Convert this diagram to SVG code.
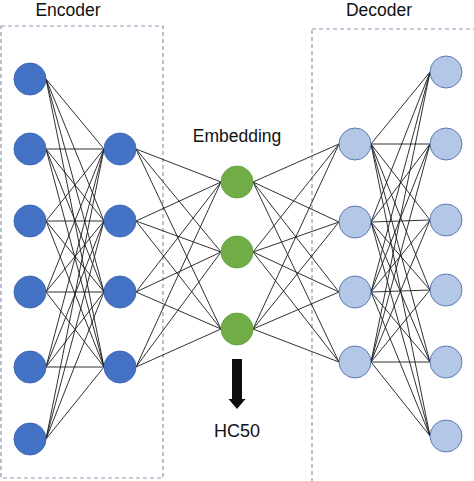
<svg xmlns="http://www.w3.org/2000/svg" width="474" height="481" viewBox="0 0 474 481">
<style>
.lbl{font-family:"Liberation Sans",Arial,sans-serif;fill:#111;text-anchor:middle}
.box{fill:none;stroke:#8b9ab4;stroke-width:1.2;stroke-dasharray:4 3}
#connectors line{stroke:#1a1a1a;stroke-width:0.9}
.enc{fill:#4472c4;stroke:#3f69b5;stroke-width:1}
.emb{fill:#70ad47;stroke:#6aa443;stroke-width:1}
.dec{fill:#b4c7e7;stroke:#5b7bb0;stroke-width:1}
</style>
<rect width="474" height="481" fill="#fff"/>
<g id="encoder-box"><rect class="box" x="1" y="26" width="162" height="452"/><text class="lbl" x="68" y="16" font-size="17.5">Encoder</text></g>
<g id="decoder-box"><rect class="box" x="312" y="29" width="180" height="470" stroke="#a3b0c8"/><text class="lbl" x="379" y="16" font-size="17.5">Decoder</text></g>
<g id="connectors">
<line x1="46" y1="79" x2="104" y2="149"/><line x1="46" y1="79" x2="104" y2="221"/><line x1="46" y1="79" x2="104" y2="292"/><line x1="46" y1="79" x2="104" y2="367"/>
<line x1="46" y1="149" x2="104" y2="149"/><line x1="46" y1="149" x2="104" y2="221"/><line x1="46" y1="149" x2="104" y2="292"/><line x1="46" y1="149" x2="104" y2="367"/>
<line x1="46" y1="221" x2="104" y2="149"/><line x1="46" y1="221" x2="104" y2="221"/><line x1="46" y1="221" x2="104" y2="292"/><line x1="46" y1="221" x2="104" y2="367"/>
<line x1="46" y1="292" x2="104" y2="149"/><line x1="46" y1="292" x2="104" y2="221"/><line x1="46" y1="292" x2="104" y2="292"/><line x1="46" y1="292" x2="104" y2="367"/>
<line x1="46" y1="367" x2="104" y2="149"/><line x1="46" y1="367" x2="104" y2="221"/><line x1="46" y1="367" x2="104" y2="292"/><line x1="46" y1="367" x2="104" y2="367"/>
<line x1="46" y1="439" x2="104" y2="149"/><line x1="46" y1="439" x2="104" y2="221"/><line x1="46" y1="439" x2="104" y2="292"/><line x1="46" y1="439" x2="104" y2="367"/>
<line x1="136" y1="149" x2="221" y2="182"/><line x1="136" y1="149" x2="221" y2="252"/><line x1="136" y1="149" x2="221" y2="329"/>
<line x1="136" y1="221" x2="221" y2="182"/><line x1="136" y1="221" x2="221" y2="252"/><line x1="136" y1="221" x2="221" y2="329"/>
<line x1="136" y1="292" x2="221" y2="182"/><line x1="136" y1="292" x2="221" y2="252"/><line x1="136" y1="292" x2="221" y2="329"/>
<line x1="136" y1="367" x2="221" y2="182"/><line x1="136" y1="367" x2="221" y2="252"/><line x1="136" y1="367" x2="221" y2="329"/>
<line x1="253" y1="182" x2="339" y2="144"/><line x1="253" y1="182" x2="339" y2="222"/><line x1="253" y1="182" x2="339" y2="292"/><line x1="253" y1="182" x2="339" y2="362"/>
<line x1="253" y1="252" x2="339" y2="144"/><line x1="253" y1="252" x2="339" y2="222"/><line x1="253" y1="252" x2="339" y2="292"/><line x1="253" y1="252" x2="339" y2="362"/>
<line x1="253" y1="329" x2="339" y2="144"/><line x1="253" y1="329" x2="339" y2="222"/><line x1="253" y1="329" x2="339" y2="292"/><line x1="253" y1="329" x2="339" y2="362"/>
<line x1="371" y1="144" x2="430" y2="72"/><line x1="371" y1="144" x2="430" y2="144"/><line x1="371" y1="144" x2="430" y2="220"/><line x1="371" y1="144" x2="430" y2="290"/><line x1="371" y1="144" x2="430" y2="362"/><line x1="371" y1="144" x2="430" y2="436"/>
<line x1="371" y1="222" x2="430" y2="72"/><line x1="371" y1="222" x2="430" y2="144"/><line x1="371" y1="222" x2="430" y2="220"/><line x1="371" y1="222" x2="430" y2="290"/><line x1="371" y1="222" x2="430" y2="362"/><line x1="371" y1="222" x2="430" y2="436"/>
<line x1="371" y1="292" x2="430" y2="72"/><line x1="371" y1="292" x2="430" y2="144"/><line x1="371" y1="292" x2="430" y2="220"/><line x1="371" y1="292" x2="430" y2="290"/><line x1="371" y1="292" x2="430" y2="362"/><line x1="371" y1="292" x2="430" y2="436"/>
<line x1="371" y1="362" x2="430" y2="72"/><line x1="371" y1="362" x2="430" y2="144"/><line x1="371" y1="362" x2="430" y2="220"/><line x1="371" y1="362" x2="430" y2="290"/><line x1="371" y1="362" x2="430" y2="362"/><line x1="371" y1="362" x2="430" y2="436"/>
</g>
<g id="enc-in-1"><circle class="enc" cx="30" cy="79" r="16"/></g>
<g id="enc-in-2"><circle class="enc" cx="30" cy="149" r="16"/></g>
<g id="enc-in-3"><circle class="enc" cx="30" cy="221" r="16"/></g>
<g id="enc-in-4"><circle class="enc" cx="30" cy="292" r="16"/></g>
<g id="enc-in-5"><circle class="enc" cx="30" cy="367" r="16"/></g>
<g id="enc-in-6"><circle class="enc" cx="30" cy="439" r="16"/></g>
<g id="enc-h-1"><circle class="enc" cx="120" cy="149" r="16"/></g>
<g id="enc-h-2"><circle class="enc" cx="120" cy="221" r="16"/></g>
<g id="enc-h-3"><circle class="enc" cx="120" cy="292" r="16"/></g>
<g id="enc-h-4"><circle class="enc" cx="120" cy="367" r="16"/></g>
<g id="embedding"><text class="lbl" x="237" y="142" font-size="17.5">Embedding</text></g>
<g id="emb-1"><circle class="emb" cx="237" cy="182" r="16"/></g>
<g id="emb-2"><circle class="emb" cx="237" cy="252" r="16"/></g>
<g id="emb-3"><circle class="emb" cx="237" cy="329" r="16"/></g>
<g id="dec-h-1"><circle class="dec" cx="355" cy="144" r="16"/></g>
<g id="dec-h-2"><circle class="dec" cx="355" cy="222" r="16"/></g>
<g id="dec-h-3"><circle class="dec" cx="355" cy="292" r="16"/></g>
<g id="dec-h-4"><circle class="dec" cx="355" cy="362" r="16"/></g>
<g id="dec-out-1"><circle class="dec" cx="446" cy="72" r="16"/></g>
<g id="dec-out-2"><circle class="dec" cx="446" cy="144" r="16"/></g>
<g id="dec-out-3"><circle class="dec" cx="446" cy="220" r="16"/></g>
<g id="dec-out-4"><circle class="dec" cx="446" cy="290" r="16"/></g>
<g id="dec-out-5"><circle class="dec" cx="446" cy="362" r="16"/></g>
<g id="dec-out-6"><circle class="dec" cx="446" cy="436" r="16"/></g>
<g id="hc50"><polygon points="232,359 242,359 242,399 245.5,399 237,409 228.5,399 232,399" fill="#0d0d0d"/><text class="lbl" x="237" y="437" font-size="18">HC50</text></g>
</svg>
